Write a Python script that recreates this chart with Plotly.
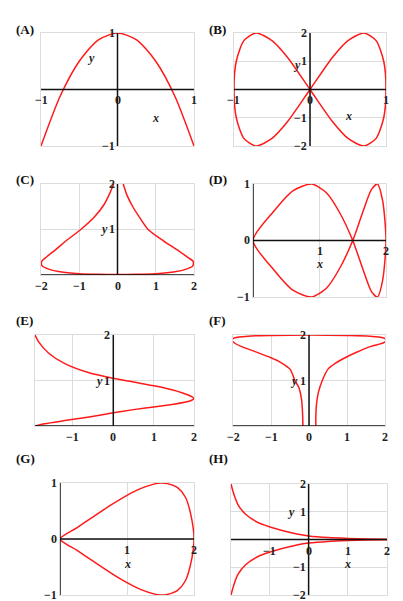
import plotly.graph_objects as go

# ---- data ----
A_x = [-1, -0.75, -0.5, -0.25, 0, 0.25, 0.5, 0.75, 1]
A_y = [-1, -0.12, 0.5, 0.88, 1, 0.88, 0.5, -0.12, -1]

B_x = [0, 0.3, 0.5, 0.71, 0.87, 0.97, 1, 0.97, 0.87, 0.71, 0.5, 0.3, 0,
       -0.3, -0.5, -0.71, -0.87, -0.97, -1, -0.97, -0.87, -0.71, -0.5, -0.3, 0]
B_y = [0, 1.15, 1.73, 2, 1.73, 1, 0, -1, -1.73, -2, -1.73, -1.15, 0,
       1.15, 1.73, 2, 1.73, 1, 0, -1, -1.73, -2, -1.73, -1.15, 0]

C_x = [-0.1, -0.2, -0.35, -0.6, -0.96, -1.3, -1.6, -1.85, -1.98, -1.97, -1.8, -1.5, -1, -0.5, 0,
       0.5, 1, 1.5, 1.8, 1.97, 1.98, 1.85, 1.6, 1.2, 0.8, 0.55, 0.4, 0.25, 0.15]
C_y = [2, 1.8, 1.55, 1.28, 1.0, 0.78, 0.57, 0.4, 0.3, 0.2, 0.13, 0.07, 0.03, 0.015, 0.01,
       0.015, 0.03, 0.07, 0.13, 0.2, 0.3, 0.38, 0.53, 0.75, 1.0, 1.3, 1.5, 1.75, 2]

D_x = [0, 0.3, 0.6, 0.88, 1.1, 1.3, 1.5, 1.65, 1.78, 1.87, 1.95, 2, 1.95, 1.87, 1.78, 1.65, 1.5, 1.3, 1.1, 0.88, 0.6, 0.3, 0]
D_y = [0, 0.5, 0.88, 1, 0.85, 0.5, 0, -0.5, -0.9, -1, -0.7, 0, 0.7, 1, 0.9, 0.5, 0, -0.5, -0.85, -1, -0.88, -0.5, 0]

E_x = [-1.94, -1.85, -1.6, -1.2, -0.6, 0, 0.6, 1.2, 1.7, 1.95, 2, 1.9, 1.5, 1, 0.5, 0, -0.6, -1.2, -1.7, -1.94]
E_y = [2, 1.85, 1.6, 1.37, 1.17, 1.05, 0.95, 0.85, 0.73, 0.64, 0.6, 0.55, 0.48, 0.42, 0.36, 0.29, 0.2, 0.12, 0.05, 0]

F_x = [-0.16, -0.17, -0.2, -0.27, -0.37, -0.5, -0.75, -1.0, -1.4, -1.79, -1.97, -2.03, -1.95, -1.6, -1, 0,
       1, 1.6, 1.95, 2.03, 1.97, 1.63, 1.25, 0.95, 0.7, 0.5, 0.35, 0.25, 0.2, 0.18, 0.18]
F_y = [0, 0.3, 0.6, 0.85, 1.0, 1.25, 1.4, 1.5, 1.63, 1.75, 1.83, 1.89, 1.94, 1.975, 1.99, 2,
       1.99, 1.975, 1.94, 1.89, 1.83, 1.75, 1.62, 1.5, 1.38, 1.25, 1.0, 0.75, 0.5, 0.2, 0]

G_x = [0, 0.25, 0.5, 0.75, 1, 1.2, 1.4, 1.5, 1.6, 1.75, 1.87, 1.95, 2,
       1.95, 1.87, 1.75, 1.6, 1.5, 1.4, 1.2, 1, 0.75, 0.5, 0.25, 0]
G_y = [0, 0.2, 0.4, 0.6, 0.78, 0.9, 0.98, 1, 0.99, 0.92, 0.75, 0.45, 0,
       -0.45, -0.75, -0.92, -0.99, -1, -0.98, -0.9, -0.78, -0.6, -0.4, -0.2, 0]

H_x = [-1.98, -1.9, -1.8, -1.6, -1.3, -1, -0.6, -0.3, 0, 0.5, 1, 1.5, 2]
H_up = [2, 1.6, 1.25, 0.9, 0.62, 0.46, 0.3, 0.2, 0.13, 0.07, 0.04, 0.02, 0.01]
H_dn = [-2, -1.6, -1.25, -0.9, -0.62, -0.46, -0.3, -0.2, -0.13, -0.07, -0.04, -0.02, -0.01]

A_xt, A_yt = [-1, 0, 1], [1, -1]
B_xt, B_yt = [-1, 0, 1], [2, 1, -1, -2]
C_xt, C_yt = [-2, -1, 0, 1, 2], [1, 2]
D_xt, D_yt = [1, 2], [1, 0, -1]
E_xt, E_yt = [-1, 0, 1, 2], [1, 2]
F_xt, F_yt = [-2, -1, 0, 1, 2], [1, 2]
G_xt, G_yt = [1, 2], [1, 0, -1]
H_xt, H_yt = [-1, 0, 1, 2], [2, 1, -1, -2]

W, Hh = 403, 601
panels = [
    ("(A)", [(A_x, A_y)], [-1, 1], [-1, 1], A_xt, A_yt, (33, 186), (25, 138), (0.5, -0.5), (-0.35, 0.55)),
    ("(B)", [(B_x, B_y)], [-1, 1], [-2, 2], B_xt, B_yt, (226, 378), (25, 138), (0.5, -0.95), (-0.17, 0.85)),
    ("(C)", [(C_x, C_y)], [-2, 2], [0, 2], C_xt, C_yt, (33, 186), (26, 117), (0, -0.55), (-0.35, 1.0)),
    ("(D)", [(D_x, D_y)], [0, 2], [-1, 1], D_xt, D_yt, (245, 378), (26, 139), (1, -0.42), (-0.12, 0.5)),
    ("(E)", [(E_x, E_y)], [-1.94, 2], [0, 2], E_xt, E_yt, (27, 186), (27, 118), (0, -0.55), (-0.35, 1.0)),
    ("(F)", [(F_x, F_y)], [-2, 2], [0, 2], F_xt, F_yt, (225, 377), (27, 118), (1, -0.55), (-0.4, 1.0)),
    ("(G)", [(G_x, G_y)], [0, 2], [-1, 1], G_xt, G_yt, (52, 186), (27, 139), (1, -0.45), (-0.35, 0.5)),
    ("(H)", [(H_x, H_up), (H_x, H_dn)], [-1.98, 2], [-2, 2], H_xt, H_yt, (223, 379), (28, 139), (1, -0.9), (-0.45, 1.0)),
]
row_off = [0, 0, 150, 150, 300, 300, 448, 448]

fig = go.Figure()
layout = {}
annots = []
shapes = []
tf = dict(family="Liberation Serif", size=12, color="#222")
for i, (lab, curves, xr, yr, xt, yt, pxd, pyd, xl, yl) in enumerate(panels):
    n = i + 1
    xa = "x" if n == 1 else f"x{n}"
    ya = "y" if n == 1 else f"y{n}"
    off = row_off[i]
    for cx, cy in curves:
        fig.add_trace(go.Scatter(x=cx, y=cy, mode="lines",
                                 line=dict(color="#ff1a1a", width=1.5, shape="spline", smoothing=0.7),
                                 xaxis=xa, yaxis=ya, showlegend=False, hoverinfo="skip"))
    axkw = dict(showgrid=True, gridcolor="#dcdcdc", gridwidth=1, zeroline=False, showticklabels=False, ticks="",
                showline=True, linecolor="#dcdcdc", mirror=True, dtick=1, tick0=0)
    layout["xaxis" if n == 1 else f"xaxis{n}"] = dict(axkw, range=xr, anchor=ya,
        domain=[pxd[0] / W, pxd[1] / W])
    layout["yaxis" if n == 1 else f"yaxis{n}"] = dict(axkw, range=yr, anchor=xa,
        domain=[1 - (pyd[1] + off) / Hh, 1 - (pyd[0] + off) / Hh])
    shapes.append(dict(type="line", xref=xa, yref=ya, x0=xr[0], x1=xr[1], y0=0, y1=0, line=dict(color="#111", width=1.5)))
    shapes.append(dict(type="line", xref=xa, yref=ya, x0=0, x1=0, y0=yr[0], y1=yr[1], line=dict(color="#111", width=1.5)))
    for v in xt:
        annots.append(dict(x=v, y=0, xref=xa, yref=ya, text=f"<b>{str(v).replace('-', '−')}</b>", showarrow=False,
                           yanchor="top", yshift=-2, font=tf))
    for v in yt:
        annots.append(dict(x=0, y=v, xref=xa, yref=ya, text=f"<b>{str(v).replace('-', '−')}</b>", showarrow=False,
                           xanchor="right", xshift=-1, font=tf))
    annots.append(dict(x=xl[0], y=xl[1], xref=xa, yref=ya, text="<i><b>x</b></i>", showarrow=False, font=tf))
    annots.append(dict(x=yl[0], y=yl[1], xref=xa, yref=ya, text="<i><b>y</b></i>", showarrow=False, font=tf))
    lx = 6 if i % 2 == 0 else 199
    annots.append(dict(x=lx / W, y=1 - (12 + off) / Hh, xref="paper", yref="paper", text=f"<b>{lab}</b>",
                       showarrow=False, xanchor="left", font=dict(family="Liberation Serif", size=13, color="#111")))

fig.update_layout(**layout, annotations=annots, shapes=shapes, width=W, height=Hh,
                  margin=dict(l=0, r=0, t=0, b=0), plot_bgcolor="white", paper_bgcolor="white")
fig.write_html("out.html")
